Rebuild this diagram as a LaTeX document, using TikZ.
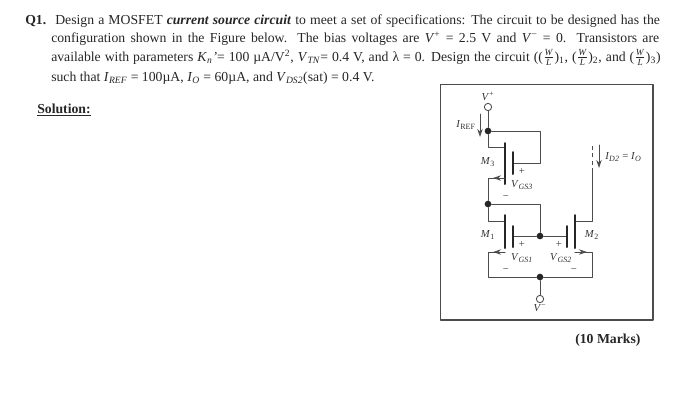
\documentclass[tikz,border=0pt]{standalone}
\usepackage{fontspec}
\setmainfont{Liberation Serif}
\usetikzlibrary{arrows.meta}
\newcommand{\wl}{$\frac{\hbox{\scriptsize\textit{W}}}{\hbox{\scriptsize\textit{L}}}$}
\newcommand{\sbi}[1]{\textsubscript{\textit{#1}}}
\begin{document}
\begin{tikzpicture}[x=0.75pt, y=-0.75pt, line cap=round, line join=round, >={Stealth[length=6pt,width=4pt]}]
  % styles
  \tikzset{
    textline/.style={anchor=base west, inner sep=0pt, text=black!85, font=\fontsize{10.3}{12}\selectfont},
    wire/.style={black!70, line width=0.65pt},
    plate/.style={black!85, line width=1.5pt},
    junction/.style={circle, fill=black!85, inner sep=0pt, minimum size=5pt},
    terminal/.style={circle, draw=black!70, fill=white, line width=0.65pt, inner sep=0pt, minimum size=5.5pt},
    lab/.style={inner sep=0pt, text=black!80, font=\footnotesize}
  }
  \useasboundingbox (0,0) rectangle (700,419);

  % ----- question text -----
  \node[textline, font=\fontsize{10.3}{12}\selectfont\bfseries] (qnum) at (25,24) {Q1.};
  \node[textline] (lineA) at (55,24) {\makebox[453.5pt][s]{Design a MOSFET \textbf{\textit{current source circuit}} to meet a set of specifications: The circuit to be designed has the}};
  \node[textline] (lineB) at (51,42) {\makebox[456pt][s]{configuration shown in the Figure below. The bias voltages are \textit{V}\textsuperscript{+} = 2.5 V and \textit{V}\textsuperscript{−} = 0. Transistors are}};
  \node[textline] (lineC) at (51,61) {\makebox[457pt][s]{available with parameters \textit{K}\sbi{n}\textit{'}= 100 µA/V\textsuperscript{2}, \textit{V}\sbi{TN}= 0.4 V, and λ = 0. Design the circuit ((\wl)\textsubscript{1}, (\wl)\textsubscript{2}, and (\wl)\textsubscript{3})}};
  \node[textline] (lineD) at (51,81) {such that \textit{I}\sbi{REF} = 100µA, \textit{I}\sbi{O} = 60µA, and \textit{V}\sbi{DS2}(sat) = 0.4 V.};
  \node[textline, font=\fontsize{10.3}{12}\selectfont\bfseries] (soln) at (37,113) {\underline{Solution:}};
  \node[textline, font=\fontsize{10.3}{12}\selectfont\bfseries] (marks) at (575,343) {(10 Marks)};

  % ----- frame -----
  \draw[black!70, line width=0.9pt] (440.5,84.5) rectangle (653,320);

  % ----- junctions and terminals -----
  \node[terminal] (Vp) at (488,107) {};
  \node[junction] (top) at (488,131) {};
  \node[junction] (mid) at (488,204) {};
  \node[junction] (gate) at (540,236) {};
  \node[junction] (bot) at (540,277) {};
  \node[terminal] (Vm) at (540,299) {};

  % ----- corners -----
  \coordinate (D3) at (488,147);
  \coordinate (D3c) at (505,147);
  \coordinate (S3c) at (505,178);
  \coordinate (S3) at (488,178);
  \coordinate (G3a) at (540,131);
  \coordinate (G3b) at (540,163);
  \coordinate (G3c) at (513,163);
  \coordinate (G12) at (540,204);
  \coordinate (D1) at (488,221);
  \coordinate (D1c) at (505,221);
  \coordinate (S1c) at (505,252);
  \coordinate (S1) at (488,252);
  \coordinate (G1c) at (513,236);
  \coordinate (G2c) at (567,236);
  \coordinate (D2c) at (575,221);
  \coordinate (D2) at (592,221);
  \coordinate (S2c) at (575,252);
  \coordinate (S2) at (592,252);
  \coordinate (botL) at (488,277);
  \coordinate (botR) at (592,277);
  \coordinate (dashA) at (592,172);
  \coordinate (dashB) at (592,143);

  % ----- wires -----
  \draw[wire] (Vp) -- (top) -- (D3) -- (D3c);
  \draw[wire] (top) -- (G3a) -- (G3b) -- (G3c);
  \draw[wire] (S3c) -- (S3) -- (mid);
  \draw[wire] (mid) -- (D1) -- (D1c);
  \draw[wire] (mid) -- (G12) -- (gate);
  \draw[wire] (G1c) -- (gate) -- (G2c);
  \draw[wire] (S1c) -- (S1) -- (botL) -- (bot) -- (botR) -- (S2) -- (S2c);
  \draw[wire] (bot) -- (Vm);
  \draw[wire] (dashA) -- (D2) -- (D2c);
  \draw[wire, line cap=butt, dash pattern=on 3pt off 2.5pt] (dashA) -- (dashB);

  % ----- transistor plates -----
  \draw[plate] (505,143) -- (505,184);
  \draw[plate] (513,152) -- (513,174);
  \draw[plate] (505,215) -- (505,248);
  \draw[plate] (513,226) -- (513,247);
  \draw[plate] (575,215) -- (575,248);
  \draw[plate] (567,226) -- (567,247);

  % ----- source arrows -----
  \draw[wire,->] (S3c) -- (493,178);
  \draw[wire,->] (S1c) -- (493,252);
  \draw[wire,->] (S2c) -- (587,252);

  % ----- current arrows -----
  \draw[wire,->] (480,114) -- (480,137);
  \draw[wire,->] (599,145) -- (599,168);

  % ----- labels -----
  \node[lab] (lVp) at (488,96) {\textit{V}\textsuperscript{+}};
  \node[lab] (lVm) at (540,308) {\textit{V}\textsuperscript{−}};
  \node[lab] (lIref) at (466,125) {\textit{I}\textsubscript{REF}};
  \node[lab, anchor=west] (lId) at (605,157) {\textit{I}\sbi{D2} = \textit{I}\sbi{O}};
  \node[lab] (lM3) at (488,162) {\textit{M}\textsubscript{3}};
  \node[lab] (lM1) at (488,235) {\textit{M}\textsubscript{1}};
  \node[lab] (lM2) at (592,235) {\textit{M}\textsubscript{2}};
  \node[lab] (lVg3) at (522,185) {\textit{V}\sbi{GS3}};
  \node[lab] (lVg1) at (522,258) {\textit{V}\sbi{GS1}};
  \node[lab] (lVg2) at (561,258) {\textit{V}\sbi{GS2}};
  \foreach \px/\py/\nm in {522/171/a,522/244/b,559/244/c}
    \node[lab] (plus\nm) at (\px,\py) {+};
  \foreach \px/\py/\nm in {506/198/a,506/271/b,574/271/c}
    \node[lab] (minus\nm) at (\px,\py) {−};
\end{tikzpicture}
\end{document}
